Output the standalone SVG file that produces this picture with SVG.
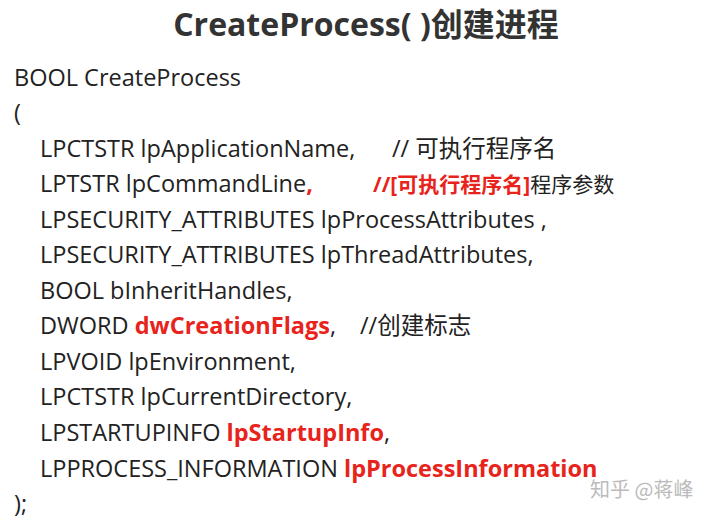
<svg xmlns="http://www.w3.org/2000/svg" width="720" height="520" viewBox="0 0 720 520">
<style>
text{font-family:"Open Sans","Noto Sans","Noto Sans CJK SC",sans-serif;font-size:23.5px;fill:#222}
.r{fill:#e8231b;font-weight:bold}
.s{font-size:21px}
.t{font-size:32px;font-weight:bold;fill:#333}
.w{font-family:"Noto Sans CJK SC",sans-serif;font-size:20px;fill:#bbb}
</style>
<rect width="720" height="520" fill="#fff"/>
<g id="title"><text class="t" x="366" y="36" text-anchor="middle">CreateProcess( )创建进程</text></g>
<g id="code">
<text x="14" y="86">BOOL CreateProcess</text>
<text x="14" y="121">(</text>
<text x="40" y="157">LPCTSTR lpApplicationName,<tspan x="392">// 可执行程序名</tspan></text>
<text x="40" y="192">LPTSTR lpCommandLine<tspan class="r">,</tspan><tspan class="r s" x="373">//[可执行程序名]</tspan><tspan class="s">程序参数</tspan></text>
<text x="40" y="228">LPSECURITY_ATTRIBUTES lpProcessAttributes ,</text>
<text x="40" y="263">LPSECURITY_ATTRIBUTES lpThreadAttributes,</text>
<text x="40" y="299">BOOL bInheritHandles,</text>
<text x="40" y="334">DWORD <tspan class="r">dwCreationFlags</tspan>,<tspan x="360">//创建标志</tspan></text>
<text x="40" y="370">LPVOID lpEnvironment,</text>
<text x="40" y="405">LPCTSTR lpCurrentDirectory,</text>
<text x="40" y="441">LPSTARTUPINFO <tspan class="r">lpStartupInfo</tspan>,</text>
<text x="40" y="477">LPPROCESS_INFORMATION <tspan class="r">lpProcessInformation</tspan></text>
<text x="14" y="512">);</text>
</g>
<g id="watermark"><text class="w" x="590" y="497">知乎 @蒋峰</text></g>
</svg>
